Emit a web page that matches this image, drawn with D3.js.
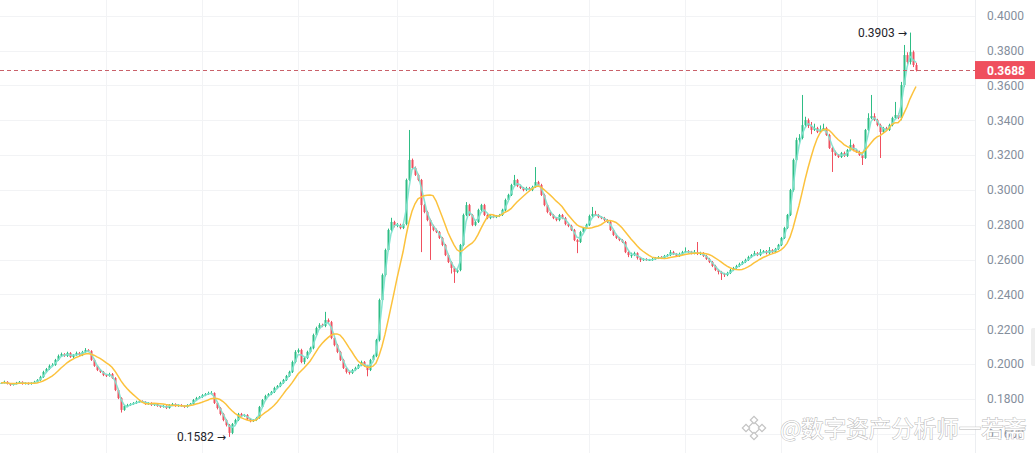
<!DOCTYPE html>
<html><head><meta charset="utf-8">
<script src="https://cdn.jsdelivr.net/npm/d3@7"></script>
<style>
html,body{margin:0;padding:0;background:#fff;}
svg{display:block;}
</style></head>
<body>
<svg id="chart" width="1035" height="453"></svg>
<script>
// ---------------- data ----------------
const firstOpen = 0.1890;
const closes = [
.1892,.1898,.1886,.1880,.1886,.1892,.1898,.1886,.1892,.1886,
.1892,.1898,.1909,.1926,.1955,.1972,.1990,.1995,.2024,.2047,
.2058,.2047,.2064,.2041,.2052,.2064,.2052,.2070,.2081,.2075,
.2024,.1990,.1966,.1955,.1937,.1932,.1943,.1920,.1851,.1805,
.1737,.1760,.1765,.1771,.1777,.1783,.1788,.1783,.1771,.1777,
.1765,.1771,.1760,.1754,.1760,.1748,.1765,.1771,.1760,.1765,
.1760,.1754,.1765,.1771,.1794,.1805,.1811,.1822,.1828,.1834,
.1834,.1777,.1748,.1714,.1679,.1650,.1605,.1656,.1679,.1714,
.1703,.1708,.1685,.1673,.1679,.1691,.1754,.1794,.1817,.1828,
.1840,.1863,.1874,.1892,.1909,.1932,.1955,.2012,.2070,.2081,
.2012,.2035,.2070,.2092,.2167,.2207,.2225,.2219,.2253,.2241,
.2150,.2109,.2070,.2024,.1978,.1955,.1949,.1966,.1978,.1995,
.2012,.1990,.1966,.2024,.2047,.2138,.2368,.2511,.2655,.2770,
.2816,.2793,.2799,.2781,.2804,.3057,.3172,.3126,.3086,.3057,
.2913,.2873,.2827,.2793,.2770,.2758,.2724,.2684,.2626,.2586,
.2552,.2529,.2540,.2684,.2856,.2913,.2856,.2799,.2816,.2885,
.2913,.2856,.2838,.2850,.2844,.2850,.2856,.2885,.2942,.2971,
.3028,.3057,.3022,.3011,.2999,.3011,.2999,.3017,.3045,.3028,
.2971,.2913,.2873,.2856,.2838,.2827,.2856,.2838,.2804,.2793,
.2770,.2712,.2701,.2758,.2781,.2799,.2850,.2862,.2856,.2844,
.2838,.2827,.2816,.2770,.2741,.2724,.2712,.2701,.2643,.2626,
.2626,.2637,.2609,.2598,.2603,.2598,.2598,.2603,.2609,.2615,
.2609,.2621,.2626,.2643,.2632,.2621,.2632,.2643,.2649,.2643,
.2637,.2643,.2632,.2637,.2621,.2603,.2586,.2563,.2540,.2529,
.2517,.2511,.2523,.2540,.2552,.2563,.2575,.2586,.2598,.2615,
.2626,.2637,.2626,.2643,.2649,.2637,.2655,.2643,.2661,.2684,
.2724,.2781,.2856,.2999,.3172,.3286,.3298,.3372,.3401,.3367,
.3344,.3355,.3332,.3344,.3355,.3315,.3241,.3218,.3200,.3189,
.3212,.3195,.3229,.3258,.3229,.3218,.3200,.3183,.3344,.3413,
.3424,.3401,.3372,.3332,.3355,.3344,.3372,.3413,.3430,.3413,
.3602,.3774,.3734,.3791,.3717,.3688
];
const highs = [
.1897,.1905,.1902,.1890,.1889,.1898,.1903,.1901,.1896,.1895,
.1897,.1904,.1914,.1933,.1962,.1978,.1998,.2005,.2030,.2055,
.2066,.2063,.2071,.2069,.2058,.2072,.2070,.2076,.2092,.2086,
.2080,.2030,.1995,.1972,.1960,.1942,.1950,.1949,.1925,.1858,
.1810,.1765,.1772,.1776,.1782,.1790,.1794,.1792,.1787,.1782,
.1781,.1776,.1775,.1764,.1765,.1764,.1770,.1777,.1775,.1769,
.1770,.1765,.1770,.1777,.1800,.1812,.1817,.1828,.1834,.1842,
.1845,.1838,.1783,.1754,.1720,.1685,.1656,.1662,.1686,.1720,
.1720,.1714,.1713,.1690,.1684,.1697,.1760,.1800,.1824,.1834,
.1846,.1870,.1880,.1899,.1915,.1938,.1962,.2020,.2080,.2090,
.2088,.2041,.2077,.2100,.2175,.2215,.2235,.2232,.2300,.2262,
.2248,.2158,.2116,.2076,.2030,.1985,.1962,.1972,.1985,.2001,
.2020,.2018,.1996,.2030,.2054,.2145,.2376,.2520,.2663,.2778,
.2840,.2823,.2810,.2806,.2812,.3065,.3344,.3180,.3134,.3092,
.3063,.2920,.2880,.2834,.2800,.2778,.2764,.2730,.2690,.2633,
.2592,.2560,.2548,.2690,.2864,.2930,.2920,.2862,.2823,.2892,
.2920,.2920,.2862,.2856,.2856,.2856,.2862,.2892,.2950,.2978,
.3035,.3086,.3063,.3030,.3017,.3018,.3017,.3024,.3131,.3052,
.3035,.2978,.2920,.2880,.2862,.2845,.2862,.2862,.2845,.2810,
.2800,.2776,.2718,.2765,.2788,.2806,.2858,.2902,.2880,.2862,
.2850,.2845,.2833,.2822,.2776,.2748,.2730,.2718,.2707,.2650,
.2640,.2645,.2642,.2615,.2608,.2608,.2604,.2610,.2615,.2620,
.2620,.2627,.2632,.2655,.2650,.2638,.2640,.2650,.2670,.2655,
.2650,.2655,.2701,.2645,.2643,.2627,.2610,.2592,.2570,.2546,
.2535,.2524,.2530,.2546,.2558,.2570,.2582,.2592,.2605,.2622,
.2632,.2650,.2643,.2660,.2655,.2655,.2672,.2660,.2667,.2690,
.2730,.2788,.2862,.3006,.3180,.3300,.3320,.3545,.3420,.3410,
.3390,.3380,.3362,.3370,.3380,.3362,.3322,.3248,.3225,.3206,
.3218,.3220,.3235,.3290,.3265,.3235,.3225,.3206,.3350,.3440,
.3545,.3440,.3408,.3380,.3362,.3362,.3380,.3420,.3505,.3440,
.3620,.3832,.3790,.3903,.3800,.3730
];
const lows = [
.1886,.1889,.1883,.1875,.1877,.1883,.1889,.1882,.1883,.1881,
.1882,.1888,.1894,.1904,.1921,.1949,.1966,.1984,.1990,.2018,
.2041,.2042,.2041,.2036,.2035,.2047,.2047,.2046,.2064,.2069,
.2018,.1984,.1960,.1949,.1931,.1926,.1928,.1915,.1845,.1799,
.1722,.1732,.1755,.1760,.1766,.1771,.1778,.1779,.1766,.1766,
.1760,.1760,.1755,.1749,.1750,.1742,.1744,.1760,.1755,.1755,
.1755,.1749,.1750,.1760,.1766,.1788,.1800,.1806,.1816,.1823,
.1826,.1771,.1740,.1706,.1672,.1642,.1582,.1598,.1650,.1673,
.1697,.1698,.1680,.1666,.1668,.1673,.1686,.1748,.1788,.1811,
.1822,.1834,.1857,.1868,.1886,.1903,.1926,.1949,.2005,.2062,
.2005,.2000,.2029,.2063,.2085,.2160,.2200,.2212,.2212,.2233,
.2143,.2102,.2063,.2018,.1972,.1946,.1940,.1943,.1960,.1972,
.1988,.1984,.1930,.1960,.2018,.2040,.2130,.2360,.2503,.2648,
.2762,.2785,.2786,.2774,.2775,.2797,.3050,.3118,.3080,.3050,
.2643,.2866,.2820,.2598,.2763,.2752,.2718,.2677,.2620,.2580,
.2520,.2466,.2522,.2533,.2677,.2849,.2850,.2792,.2792,.2810,
.2878,.2850,.2832,.2832,.2838,.2838,.2844,.2850,.2878,.2935,
.2965,.3021,.3016,.3005,.2992,.2993,.2992,.2993,.3011,.3022,
.2965,.2906,.2866,.2850,.2832,.2820,.2820,.2832,.2797,.2786,
.2764,.2706,.2637,.2695,.2752,.2775,.2793,.2844,.2850,.2838,
.2832,.2820,.2810,.2764,.2735,.2718,.2706,.2695,.2637,.2614,
.2610,.2620,.2600,.2586,.2592,.2592,.2592,.2592,.2598,.2603,
.2603,.2603,.2615,.2620,.2626,.2615,.2615,.2626,.2637,.2637,
.2630,.2630,.2626,.2626,.2615,.2598,.2580,.2557,.2534,.2515,
.2483,.2500,.2505,.2517,.2534,.2546,.2557,.2569,.2580,.2592,
.2609,.2620,.2620,.2620,.2637,.2630,.2630,.2637,.2637,.2655,
.2678,.2718,.2775,.2850,.2990,.3165,.3270,.3290,.3360,.3355,
.3320,.3338,.3326,.3326,.3338,.3310,.3235,.3103,.3195,.3183,
.3183,.3189,.3189,.3222,.3222,.3212,.3195,.3143,.3178,.3338,
.3406,.3395,.3365,.3183,.3326,.3338,.3338,.3365,.3406,.3406,
.3400,.3590,.3720,.3720,.3705,.3680
];
const yTicks = [0.16,0.18,0.20,0.22,0.24,0.26,0.28,0.30,0.32,0.34,0.36,0.38,0.40];
const gridIdx = [35, 67, 99, 132, 164, 196, 228, 260, 292];
const lastPrice = 0.3688;
const maFastN = 3, maSlowN = 10;
const watermarkText = "@数字资产分析师一若斋";

// ---------------- build ----------------
const candles = closes.map((c, i) => ({
  i, o: i === 0 ? firstOpen : closes[i - 1], c, h: highs[i], l: lows[i]
}));
function sma(n) {
  return closes.map((_, i) => {
    const s = Math.max(0, i - n + 1);
    return d3.mean(closes.slice(s, i + 1));
  });
}
const maFast = sma(maFastN), maSlow = sma(maSlowN);

const svg = d3.select("#chart");
const W = 1035, H = 453, plotRight = 975;
const x = d3.scaleLinear().domain([0, closes.length - 1]).range([1, 916]);
const y = d3.scaleLinear().domain([0.16, 0.40]).range([433.8, 15.7]);

const UP = "#2ebd85", DOWN = "#f0505f";

// grid
const grid = svg.append("g");
grid.selectAll("line.h").data(yTicks).join("line")
  .attr("x1", 0).attr("x2", plotRight)
  .attr("y1", d => Math.round(y(d)) + 0.5).attr("y2", d => Math.round(y(d)) + 0.5)
  .attr("stroke", "#f2f3f5").attr("stroke-width", 1);
grid.selectAll("line.v").data(gridIdx).join("line")
  .attr("x1", d => Math.round(x(d)) + 0.5).attr("x2", d => Math.round(x(d)) + 0.5)
  .attr("y1", 0).attr("y2", H)
  .attr("stroke", "#f2f3f5").attr("stroke-width", 1);

// right axis border
svg.append("line").attr("x1", plotRight + 0.5).attr("x2", plotRight + 0.5)
  .attr("y1", 0).attr("y2", H).attr("stroke", "#eceef1");

// candles
const cg = svg.append("g");
cg.selectAll("line").data(candles).join("line")
  .attr("x1", d => Math.round(x(d.i)) + 0.5).attr("x2", d => Math.round(x(d.i)) + 0.5)
  .attr("y1", d => y(d.h)).attr("y2", d => y(d.l))
  .attr("stroke", d => d.c >= d.o ? UP : DOWN).attr("stroke-width", 1);
cg.selectAll("rect").data(candles).join("rect")
  .attr("x", d => Math.round(x(d.i)) - 0.5)
  .attr("width", 2)
  .attr("y", d => y(Math.max(d.o, d.c)))
  .attr("height", d => Math.max(1, Math.abs(y(d.o) - y(d.c))))
  .attr("fill", d => d.c >= d.o ? UP : DOWN);

// moving averages
const line = d3.line().x((d, i) => x(i)).y(d => y(d)).curve(d3.curveLinear);
svg.append("path").datum(maFast).attr("d", line)
  .attr("fill", "none").attr("stroke", "#7fe3cf").attr("stroke-width", 1.5).attr("opacity", 0.95);
svg.append("path").datum(maSlow).attr("d", line)
  .attr("fill", "none").attr("stroke", "#fcc23d").attr("stroke-width", 1.5);

// price line
svg.append("line").attr("x1", 0).attr("x2", plotRight)
  .attr("y1", Math.round(y(lastPrice)) + 0.5).attr("y2", Math.round(y(lastPrice)) + 0.5)
  .attr("stroke", "#c9616a").attr("stroke-dasharray", "4,3").attr("stroke-width", 1);

// axis labels
const axis = d3.axisRight(y).tickValues(yTicks).tickFormat(d3.format(".4f"))
  .tickSize(0).tickPadding(12);
const ag = svg.append("g").attr("transform", `translate(${plotRight},0)`).call(axis);
ag.select(".domain").remove();
ag.selectAll("text").attr("fill", "#848e9c")
  .style("font-family", "Roboto, 'Liberation Sans', Arial, sans-serif").style("font-size", "12px");

// annotations high / low
const hiI = d3.maxIndex(highs), loI = d3.minIndex(lows);
const annFont = "Roboto, 'Liberation Sans', Arial, sans-serif";
function annotate(px, py, val) {
  const t = svg.append("text").attr("x", px).attr("y", py)
    .attr("text-anchor", "end").attr("fill", "#1e2329")
    .style("font-family", annFont).style("font-size", "12px");
  t.append("tspan").text(d3.format(".4f")(val) + " ");
  t.append("tspan").style("font-family", "'DejaVu Sans', sans-serif").style("font-size", "11px")
    .text("\u2192");
}
annotate(x(hiI) - 3, y(highs[hiI]) + 4.5, highs[hiI]);
annotate(x(loI) - 3, y(lows[loI]) + 4, lows[loI]);

// watermark
const wm = svg.append("g");
const lg = wm.append("g").attr("transform", "translate(754,428)")
  .attr("fill", "#fff").attr("stroke", "#c4c4c4").attr("stroke-width", 1.2);
[[0,0,4.5],[0,-8,2.6],[0,8,2.6],[-8,0,2.6],[8,0,2.6]].forEach(([dx,dy,s]) => {
  lg.append("rect").attr("x", dx - s).attr("y", dy - s).attr("width", 2*s).attr("height", 2*s)
    .attr("transform", `rotate(45 ${dx} ${dy})`);
});
wm.append("text").attr("x", 780).attr("y", 437)
  .attr("fill", "#fff").attr("stroke", "#b9b9b9").attr("stroke-width", 1)
  .attr("paint-order", "stroke")
  .style("font-family", "'Noto Sans CJK SC', sans-serif").style("font-size", "22.5px")
  .text(watermarkText);

// last price label
const py = y(lastPrice);
svg.append("rect").attr("x", plotRight).attr("y", py - 9).attr("width", W - plotRight).attr("height", 18)
  .attr("fill", "#ef4f5d");
svg.append("text").attr("x", 987).attr("y", py + 4.5).attr("fill", "#fff")
  .style("font-family", annFont).style("font-size", "12px").style("font-weight", "bold")
  .text(d3.format(".4f")(lastPrice));

// scroll handle
svg.append("rect").attr("x", 1031).attr("y", 328).attr("width", 6).attr("height", 38)
  .attr("rx", 2).attr("fill", "#eeeeee");
</script>
</body></html>
